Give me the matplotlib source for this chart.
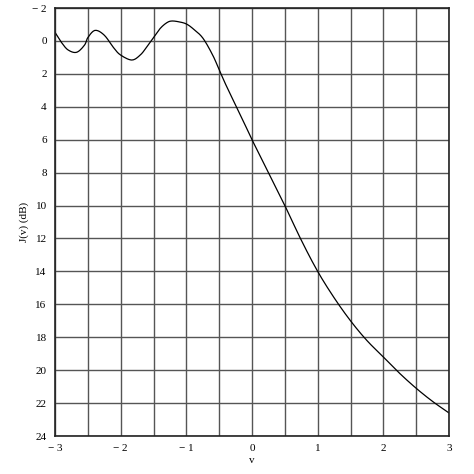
import matplotlib
matplotlib.use("Agg")
import matplotlib.pyplot as plt
import numpy as np

v = [-3.0, -2.9, -2.8, -2.67, -2.55, -2.5, -2.39, -2.25, -2.1, -2.0, -1.83, -1.7, -1.6, -1.5, -1.4,
     -1.3, -1.22, -1.1, -1.0, -0.9, -0.75, -0.6, -0.5, -0.4, -0.25, -0.1, 0.0, 0.25, 0.5, 0.75,
     1.0, 1.25, 1.5, 1.75, 2.0, 2.25, 2.5, 2.75, 3.0]
J = [-0.52, 0.1, 0.55, 0.69, 0.25, -0.2, -0.64, -0.35, 0.45, 0.86, 1.16, 0.85, 0.35, -0.2, -0.75,
     -1.1, -1.21, -1.15, -1.03, -0.75, -0.18, 0.85, 1.75, 2.65, 3.9, 5.15, 6.0, 8.0, 10.0, 12.1,
     14.0, 15.6, 17.0, 18.2, 19.2, 20.2, 21.1, 21.9, 22.6]

def catmull(x, y, n=12):
    x = np.asarray(x, float); y = np.asarray(y, float)
    P = np.column_stack([x, y])
    P = np.vstack([2*P[0]-P[1], P, 2*P[-1]-P[-2]])
    out = []
    for i in range(1, len(P)-2):
        p0, p1, p2, p3 = P[i-1], P[i], P[i+1], P[i+2]
        for t in np.linspace(0, 1, n, endpoint=False):
            out.append(0.5*((2*p1) + (-p0+p2)*t + (2*p0-5*p1+4*p2-p3)*t**2 + (-p0+3*p1-3*p2+p3)*t**3))
    out.append(P[-2])
    out = np.array(out)
    return out[:, 0], out[:, 1]

plt.rcParams['font.family'] = ['Liberation Serif', 'DejaVu Serif']
fig = plt.figure(figsize=(4.74, 4.74), dpi=100)
ax = fig.add_axes([55/474, 38/474, 394/474, 428/474])
sx, sy = catmull(v, J)
ax.plot(sx, sy, color='black', lw=0.9)
ax.set_xlim(-3, 3)
ax.set_ylim(24, -2)
ax.set_xticks(np.arange(-3, 3.01, 1))
ax.set_xticklabels(['\u2212 3', '\u2212 2', '\u2212 1', '0', '1', '2', '3'])
ax.set_xticks(np.arange(-3, 3.01, 0.5), minor=True)
ax.set_yticks(np.arange(-2, 24.1, 2))
ax.set_yticklabels(['\u2212 2'] + [str(i) for i in range(0, 25, 2)])
ax.tick_params(which='both', length=0, labelsize=8, pad=6)
ax.grid(which='both', color='#555555', lw=1.0)
for s in ax.spines.values():
    s.set_color('#222222')
    s.set_linewidth(1.2)
ax.set_xlabel('v', fontsize=8, labelpad=2)
ax.set_ylabel('J(v) (dB)', fontsize=8, labelpad=2)
fig.savefig('out.png', dpi=100)
